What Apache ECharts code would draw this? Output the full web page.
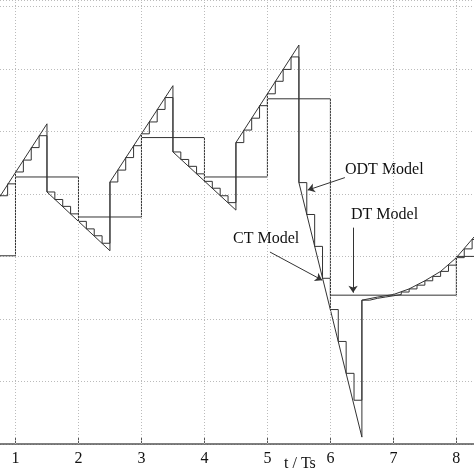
<!DOCTYPE html>
<html><head><meta charset="utf-8">
<script src="https://cdn.jsdelivr.net/npm/echarts@6/dist/echarts.min.js"></script>
<style>html,body{margin:0;padding:0;background:#fff}#c{width:474px;height:474px}</style>
</head><body><div id="c"></div>
<script>
const xTicks = [1,2,3,4,5,6,7,8];
const ctData = [[0.754,3.96],[1.5,5.12],[1.5,4.03],[2.5,3.09],[2.5,4.19],[3.5,5.73],[3.5,4.67],[4.5,3.74],[4.5,4.82],[5.5,6.38],[5.5,4.18],[6.5,0.11],[6.5,2.30],[6.75,2.35],[7,2.39],[7.25,2.48],[7.5,2.61],[7.75,2.76],[8,2.98],[8.28,3.31]];
const dtData = [[0.754,3.01],[1,4.27],[2,3.63],[3,4.90],[4,4.27],[5,5.52],[6,2.38],[7,2.38],[8,3.0],[8.28,3.0]];
const odtData = [[0.754,3.97],[0.875,4.16],[1,4.35],[1.125,4.54],[1.25,4.74],[1.375,4.93],
[1.5,4.03],[1.625,3.91],[1.75,3.80],[1.875,3.68],[2,3.56],[2.125,3.44],[2.25,3.33],[2.375,3.21],
[2.5,4.19],[2.625,4.38],[2.75,4.58],[2.875,4.77],[3,4.96],[3.125,5.15],[3.25,5.35],[3.375,5.54],
[3.5,4.67],[3.625,4.55],[3.75,4.44],[3.875,4.32],[4,4.20],[4.125,4.09],[4.25,3.97],[4.375,3.86],
[4.5,4.82],[4.625,5.02],[4.75,5.21],[4.875,5.41],[5,5.60],[5.125,5.80],[5.25,5.99],[5.375,6.19],
[5.5,4.18],[5.625,3.67],[5.75,3.16],[5.875,2.65],[6,2.15],[6.125,1.64],[6.25,1.13],[6.375,0.70],
[6.5,2.30],[6.625,2.33],[6.75,2.35],[6.875,2.37],[7,2.39],[7.125,2.43],[7.25,2.48],[7.375,2.54],[7.5,2.61],[7.625,2.68],[7.75,2.76],[7.875,2.86],[8,2.98],[8.125,3.12],[8.25,3.27],[8.28,3.27]];
const arrows = [
  {from:[6.23,4.26], to:[5.64,4.06]},
  {from:[6.36,3.46], to:[6.36,2.42]},
  {from:[5.04,3.07], to:[5.87,2.62]}
];
const labels = [
  {text:'ODT Model', x:345, y:162},
  {text:'DT Model', x:351, y:207},
  {text:'CT Model', x:233, y:231}
];
const font = 'Liberation Serif';
const lineCol = '#333';
const chart = echarts.init(document.getElementById('c'));
chart.setOption({
  animation:false,
  grid:{left:0,right:0,top:0,bottom:30},
  xAxis:{type:'value',min:0.754,max:8.28,
    axisLine:{lineStyle:{color:'#555',width:1.5}},
    axisTick:{customValues:xTicks,inside:true,length:6,lineStyle:{color:'#555'}},
    axisLabel:{customValues:xTicks,color:'#111',fontFamily:font,fontSize:16,margin:7},
    splitLine:{show:false}},
  yAxis:{type:'value',min:0,max:7.1,interval:1,
    axisLine:{show:false},axisTick:{show:false},axisLabel:{show:false},
    splitLine:{lineStyle:{color:'#bbb',type:[1,2],width:1}}},
  graphic:[
    ...labels.map(l=>({type:'text',left:l.x,top:l.y,style:{text:l.text,font:'16px "Liberation Serif"',fill:'#111'}})),
    {type:'text',left:284,top:456,style:{text:'t / Ts',font:'16px "Liberation Serif"',fill:'#111'}}
  ],
  series:[
    {type:'line',data:[],markLine:{silent:true,symbol:'none',label:{show:false},
      lineStyle:{color:'#bbb',type:[1,2],width:1},data:xTicks.map(v=>({xAxis:v}))}},
    {type:'line',data:dtData,step:'end',showSymbol:false,lineStyle:{color:lineCol,width:1}},
    {type:'line',data:odtData,step:'end',showSymbol:false,lineStyle:{color:lineCol,width:1}},
    {type:'line',data:ctData,showSymbol:false,lineStyle:{color:lineCol,width:1},
      markLine:{silent:true,symbol:['none','arrow'],symbolSize:7,label:{show:false},
        lineStyle:{color:lineCol,type:'solid',width:1},
        data:arrows.map(a=>[{coord:a.from},{coord:a.to}])}}
  ]
});
</script></body></html>
